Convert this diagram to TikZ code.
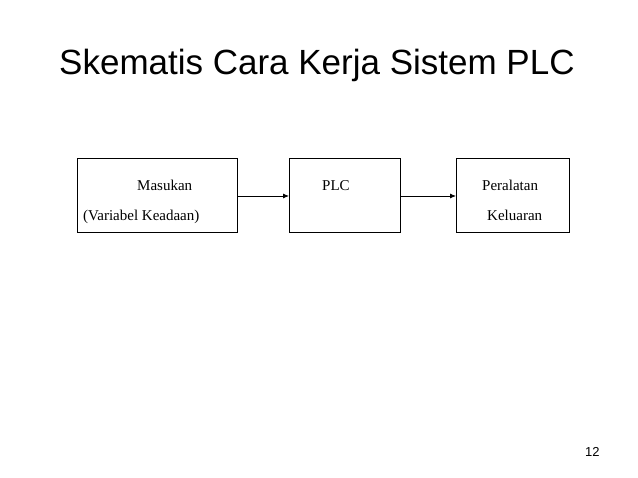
\documentclass[tikz,border=0pt]{standalone}
\usepackage{fontspec}
\setmainfont{Liberation Serif}
\newfontfamily\arialf{Liberation Sans}
\usetikzlibrary{arrows.meta}
\begin{document}
\begin{tikzpicture}[x=1pt,y=-1pt,
  blk/.style={draw,line width=0.6pt},
  lbl/.style={font=\fontsize{15}{18}\selectfont,inner sep=0pt,anchor=base west},
  arr/.style={-{Latex[length=6pt,width=5pt]},line width=0.8pt}]
\useasboundingbox (0,0) rectangle (638,478);
\node[font=\arialf\fontsize{35}{40}\selectfont,anchor=base west,inner sep=0pt] (title) at (59,75) {Skematis Cara Kerja Sistem PLC};
\draw[blk] (77,158) rectangle (237,232);
\draw[blk] (289,158) rectangle (400,232);
\draw[blk] (456,158) rectangle (569,232);
\coordinate (a1) at (237,196); \coordinate (b1) at (289,196);
\coordinate (a2) at (400,196); \coordinate (b2) at (456,196);
\draw[arr] (a1) -- (b1);
\draw[arr] (a2) -- (b2);
\node[lbl] (m1) at (137,191) {Masukan};
\node[lbl] (m2) at (83,221) {(Variabel Keadaan)};
\node[lbl] (p) at (322,191) {PLC};
\node[lbl] (r1) at (482,191) {Peralatan};
\node[lbl] (r2) at (487,221) {Keluaran};
\node[font=\arialf\fontsize{13}{15}\selectfont,anchor=base west,inner sep=0pt] (n) at (585,457) {12};
\end{tikzpicture}
\end{document}
